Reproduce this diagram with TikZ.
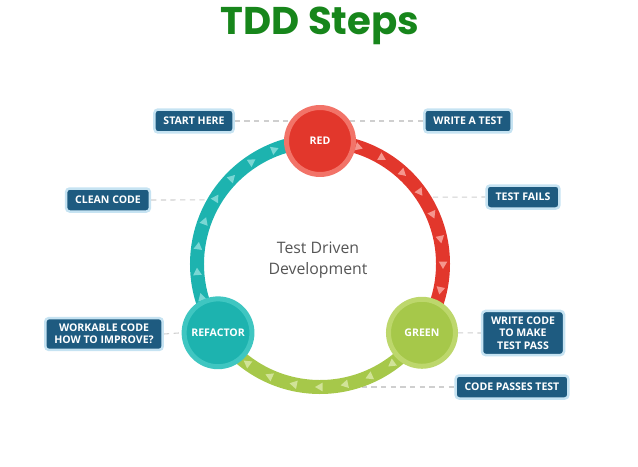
\documentclass[tikz,border=0pt]{standalone}
\usepackage{fontspec}
\setmainfont{Open Sans}
\newfontfamily\titlefont{Poppins}
\usetikzlibrary{calc,shapes.geometric,backgrounds}
\definecolor{TitleGreen}{HTML}{17861B}
\definecolor{BoxBlue}{HTML}{1E5B80}
\definecolor{BoxEdge}{HTML}{C6E3F2}
\definecolor{LinkGray}{HTML}{CFCFCF}
\definecolor{RedFill}{HTML}{E2372C}
\definecolor{RedEdge}{HTML}{F27368}
\definecolor{GreenFill}{HTML}{A6C84A}
\definecolor{GreenEdge}{HTML}{BDD76C}
\definecolor{TealFill}{HTML}{1DB3AF}
\definecolor{TealEdge}{HTML}{3FC6C1}
\definecolor{MidGray}{HTML}{555555}

\begin{document}
\begin{tikzpicture}[x=0.02cm,y=0.02cm,
  box/.style={draw=BoxEdge,line width=0.05cm,fill=BoxBlue,rounded corners=2pt,text=white,align=center,font=\bfseries\fontsize{6}{7}\selectfont,inner xsep=0.18cm,minimum height=0.46cm},
  phase/.style={circle,minimum size=1.34cm,line width=0.1cm,text=white,font=\bfseries\fontsize{6}{7}\selectfont},
  link/.style={draw=LinkGray,line width=0.6pt,dash pattern=on 3pt off 2.5pt},
  band/.style={line width=0.28cm},
  tri/.style={regular polygon,regular polygon sides=3,inner sep=0pt,minimum size=0.2cm}]
\useasboundingbox (0,0) rectangle (638,-466);
\node[font=\titlefont\bfseries\fontsize{22}{26}\selectfont,text=TitleGreen] (title) at (320,-26) {TDD Steps};
\coordinate (o) at (320,-264);
% the cycle
\draw[band,RedFill] ($(o)+(90:123)$) arc[start angle=90,end angle=-34,radius=123];
\draw[band,GreenFill] ($(o)+(-34:123)$) arc[start angle=-34,end angle=-146,radius=123];
\draw[band,TealFill] ($(o)+(214:123)$) arc[start angle=214,end angle=90,radius=123];
\foreach \a in {72,60,...,-12}
  \node[tri,fill=RedEdge!75!white,rotate=\a-180] (r\a) at ($(o)+(\a:123)$) {};
\foreach \a in {-54,-66,...,-126}
  \node[tri,fill=GreenEdge!70!white,rotate=\a-180] (g\a) at ($(o)+(\a:123)$) {};
\foreach \a in {196,184,...,106}
  \node[tri,fill=TealEdge!70!white,rotate=\a-180] (t\a) at ($(o)+(\a:123)$) {};
\node[phase,fill=RedFill,draw=RedEdge] (red) at ($(o)+(90:123)$) {RED};
\node[phase,fill=GreenFill,draw=GreenEdge] (green) at ($(o)+(-34:123)$) {GREEN};
\node[phase,fill=TealFill,draw=TealEdge] (refactor) at ($(o)+(214:123)$) {REFACTOR};
\node[font=\fontsize{9}{11.5}\selectfont,text=MidGray,align=center] (tdd) at (318,-260) {Test Driven\\Development};
% step boxes
\node[box] (start) at (194,-121) {START HERE};
\node[box] (write) at (468,-121) {WRITE A TEST};
\node[box] (clean) at (108,-200) {CLEAN CODE};
\node[box] (fails) at (523,-197) {TEST FAILS};
\node[box] (workable) at (104,-334) {WORKABLE CODE\\HOW TO IMPROVE?};
\node[box] (makepass) at (523,-333) {WRITE CODE\\TO MAKE\\TEST PASS};
\node[box] (passes) at (512,-387) {CODE PASSES TEST};
\coordinate (ringL) at ($(o)+(148.6:123)$);
\coordinate (ringR) at ($(o)+(32.9:123)$);
\coordinate (ringB) at (352,-387);
\begin{scope}[on background layer]
\draw[link] (start.east) -- (start.east -| red.center);
\draw[link] (write.west) -- (write.west -| red.center);
\draw[link] (clean.east) -- (ringL);
\draw[link] (ringR) -- (fails.west);
\draw[link] (workable.east) -- (refactor.west);
\draw[link] (green.east) -- (makepass.west);
\draw[link] (ringB) -- (passes.west);
\end{scope}
\end{tikzpicture}
\end{document}
